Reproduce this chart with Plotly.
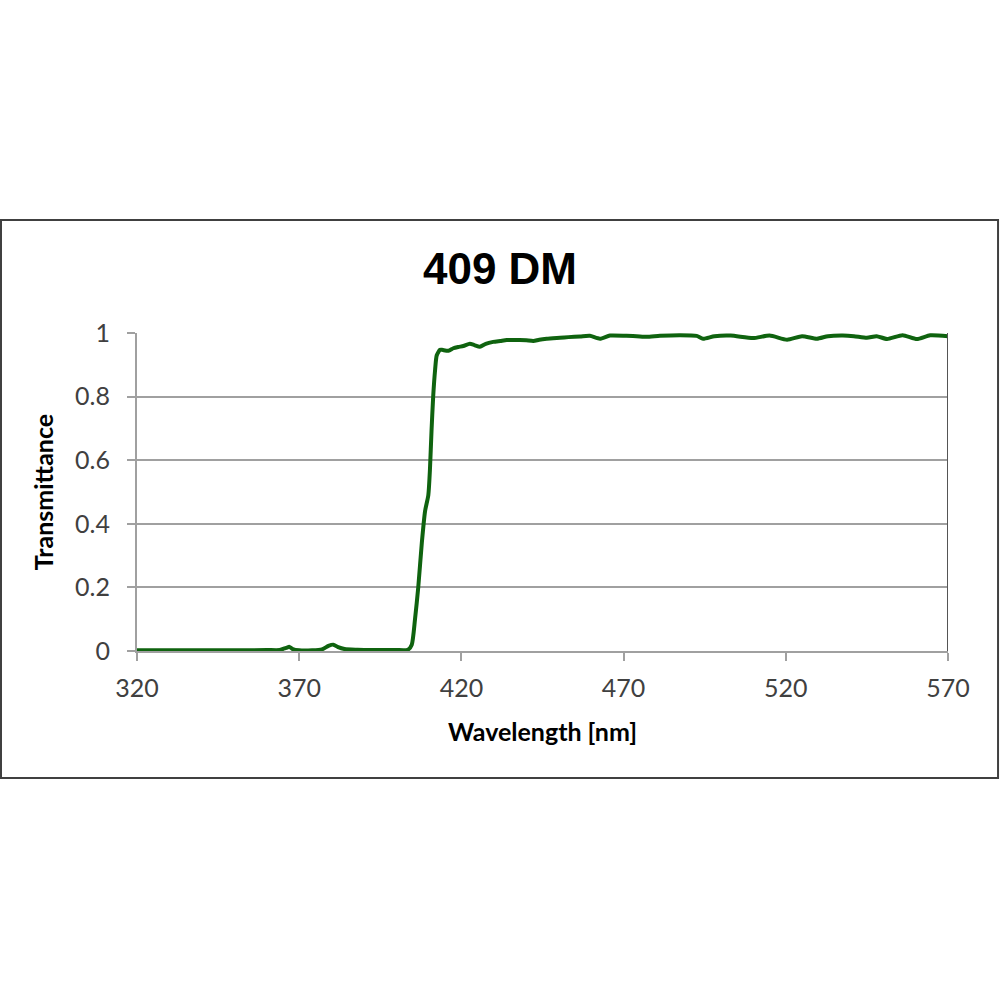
import plotly.graph_objects as go

# Transmission curve of the 409 DM filter
wavelength = [
    320, 330, 340, 350, 360, 364, 366, 367, 368, 370, 374, 377, 379, 380.5, 382,
    384, 388, 392, 396, 400, 403.5, 404.7, 405.7, 406.7, 407.8, 408.8, 409.8,
    410.3, 410.8, 411.3, 411.9, 412.4, 413.4, 414, 416, 417.5, 419, 420.6, 422.6,
    424, 425.7, 427.5, 429.8, 432, 434, 438, 440, 442.2, 444, 446.3, 450.4, 453,
    456.6, 459.6, 462.7, 465.8, 470.9, 474, 477.1, 481.2, 487.4, 492.5, 494.5,
    498, 503, 509.9, 515, 520.4, 525, 529.6, 533, 537.6, 541, 545, 548, 551.2,
    556, 560.4, 564.5, 570,
]
transmittance = [
    0.002, 0.002, 0.002, 0.002, 0.003, 0.003, 0.010, 0.013, 0.006, 0.002, 0.002,
    0.005, 0.016, 0.020, 0.012, 0.006, 0.004, 0.003, 0.003, 0.003, 0.004, 0.020,
    0.10, 0.20, 0.34, 0.44, 0.49, 0.57, 0.695, 0.80, 0.885, 0.93, 0.947, 0.947,
    0.944, 0.952, 0.956, 0.959, 0.966, 0.962, 0.957, 0.966, 0.972, 0.975, 0.978,
    0.978, 0.977, 0.975, 0.979, 0.982, 0.985, 0.987, 0.989, 0.991, 0.982, 0.992,
    0.991, 0.990, 0.988, 0.991, 0.993, 0.991, 0.982, 0.990, 0.992, 0.984, 0.992,
    0.979, 0.990, 0.982, 0.990, 0.992, 0.990, 0.985, 0.990, 0.981, 0.993, 0.981,
    0.993, 0.990,
]

x_ticks = [320, 370, 420, 470, 520, 570]
y_ticks = [0, 0.2, 0.4, 0.6, 0.8, 1]
y_tick_text = ["0", "0.2", "0.4", "0.6", "0.8", "1"]

fig = go.Figure(
    go.Scatter(
        x=wavelength,
        y=transmittance,
        mode="lines",
        line=dict(color="#0f630f", width=4, shape="spline", smoothing=0.6),
        showlegend=False,
    )
)

tick_font = dict(family="Lato, Open Sans, sans-serif", size=25, color="#404040")
axis_title_font = dict(family="Lato, Open Sans, sans-serif", size=25, color="black")

fig.update_layout(
    width=1000,
    height=1000,
    paper_bgcolor="white",
    plot_bgcolor="white",
    margin=dict(l=137, r=52, t=333, b=349),
    title=dict(
        text="<b>409 DM</b>",
        font=dict(family="Liberation Sans, Arial, sans-serif", size=44, color="black"),
        x=0.5,
        xanchor="center",
        xref="container",
        y=0.731,
        yanchor="middle",
        yref="container",
    ),
    xaxis=dict(
        range=[320, 570],
        tickvals=x_ticks,
        ticks="outside",
        ticklen=8,
        tickcolor="#a0a0a0",
        tickwidth=1.5,
        ticklabelstandoff=6,
        showline=True,
        linecolor="#a0a0a0",
        linewidth=2,
        showgrid=False,
        zeroline=False,
        tickfont=tick_font,
        title=dict(text="<b>Wavelength [nm]</b>", font=axis_title_font, standoff=22),
    ),
    yaxis=dict(
        range=[0, 1],
        tickvals=y_ticks,
        ticktext=y_tick_text,
        ticks="outside",
        ticklen=8,
        tickcolor="#a0a0a0",
        tickwidth=1.5,
        ticklabelstandoff=12,
        showline=True,
        linecolor="#a0a0a0",
        linewidth=2,
        showgrid=True,
        gridcolor="#a0a0a0",
        gridwidth=1.5,
        zeroline=False,
        tickfont=tick_font,
        title=dict(text="<b>Transmittance</b>", font=axis_title_font, standoff=14),
    ),
    shapes=[
        # right edge of the plot area
        dict(type="line", xref="x", yref="y", x0=570, x1=570, y0=0, y1=1,
             line=dict(color="#555555", width=2)),
        # outer chart border
        dict(type="rect", xref="paper", yref="paper",
             x0=-0.1677, x1=1.0617, y0=-0.3994, y1=1.3553,
             line=dict(color="#404040", width=2)),
    ],
)

# drop the browser's default 8px body margin so the figure sits at the page corner
fig.write_html(
    "out.html",
    config={"displayModeBar": False},
    post_script="document.body.style.margin = '0';",
)
